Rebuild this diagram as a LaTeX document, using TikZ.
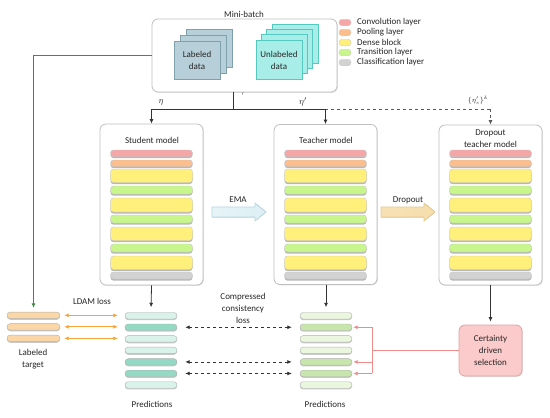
\documentclass[tikz,border=0pt]{standalone}
\usepackage{fontspec}
\setmainfont{Carlito}
\usetikzlibrary{arrows.meta,shadows}
\definecolor{convc}{HTML}{F5A7A7}
\definecolor{poolc}{HTML}{FBBE8C}
\definecolor{densec}{HTML}{FFF07C}
\definecolor{transc}{HTML}{C8F58C}
\definecolor{classc}{HTML}{D2D2D2}
\definecolor{panelb}{HTML}{BFBFBF}
\definecolor{labf}{HTML}{B7CFD8}
\definecolor{labd}{HTML}{7FA0AD}
\definecolor{unlf}{HTML}{A9EDE8}
\definecolor{unld}{HTML}{55C8C0}
\definecolor{tgtc}{HTML}{FBD7A8}
\definecolor{sprl}{HTML}{D9F2EA}
\definecolor{sprd}{HTML}{93D9C3}
\definecolor{tprl}{HTML}{EBF6DF}
\definecolor{tprd}{HTML}{C7E6AC}
\definecolor{ldamc}{HTML}{F7A43A}
\definecolor{redc}{HTML}{F28C8C}
\definecolor{certf}{HTML}{FBCACA}
\definecolor{certd}{HTML}{E3A3A3}
\definecolor{greenl}{HTML}{3E8E41}
\definecolor{emaf}{HTML}{DCEFF4}
\definecolor{emad}{HTML}{B5D8E2}
\definecolor{dropf}{HTML}{F6DEAC}
\definecolor{dropd}{HTML}{E6C88C}
\definecolor{txt}{HTML}{262626}
\begin{document}
\begin{tikzpicture}[x=1bp,y=-1bp,
  every node/.style={text=txt, font=\fontsize{9}{12}\selectfont},
  panel/.style={rectangle, rounded corners=6bp, draw=panelb, line width=0.8bp, fill=white, inner sep=0,
     drop shadow={shadow xshift=0.8bp, shadow yshift=-0.8bp, fill=black!25, opacity=0.5}},
  layer/.style={rectangle, rounded corners=3bp, minimum width=82bp, inner sep=0, draw=black!22, line width=0.4bp,
     drop shadow={shadow xshift=0bp, shadow yshift=-1.6bp, fill=black!40, opacity=0.7}},
  pred/.style={rectangle, rounded corners=3.2bp, minimum width=52bp, minimum height=6.5bp, inner sep=0, draw=black!30, line width=0.4bp,
     drop shadow={shadow xshift=0bp, shadow yshift=-1.2bp, fill=black!35, opacity=0.6}},
  legpill/.style={rectangle, rounded corners=3bp, minimum width=12bp, minimum height=6.5bp, inner sep=0, draw=black!20, line width=0.4bp},
  legtxt/.style={anchor=west, inner sep=0},
  conn/.style={draw=black!80, line width=0.8bp},
  tip/.style={-{Latex[length=4.5bp,width=4bp]}},
  dtip/.style={{Latex[length=4.5bp,width=4bp]}-{Latex[length=4.5bp,width=4bp]}},
  datasq/.style={line width=0.8bp},
  lbl/.style={align=center, inner sep=0}
]
\fill[white] (0,0) rectangle (550,417);
\useasboundingbox (0,0) rectangle (550,417);

% Mini-batch
\node[panel, minimum width=185bp, minimum height=73bp] (mb) at (244.5,55.5) {};
\node[lbl] (mbt) at (244,14) {Mini-batch};
\foreach \k in {2,1,0} {
  \filldraw[datasq, fill=labf, draw=labd] ({174+6*\k},{41-6*\k}) rectangle ({220+6*\k},{79-6*\k});
}
\node[lbl] (labd) at (197,60) {Labeled\\data};
\foreach \k in {3,2,1,0} {
  \filldraw[datasq, fill=unlf, draw=unld] ({256+5.33*\k},{40-5.33*\k}) rectangle ({302+5.33*\k},{79-5.33*\k});
}
\node[lbl] (unld) at (279,60) {Unlabeled\\data};

% Legend
\foreach \y/\c/\t [count=\i] in {22.5/convc/Convolution layer, 32.5/poolc/Pooling layer, 42.5/densec/Dense block, 52.5/transc/Transition layer, 62.5/classc/Classification layer} {
  \node[legpill, fill=\c] (lg\i) at (345,\y) {};
  \node[legtxt] (lgt\i) at (357,\y) {\t};
}

% Model panels
\node[panel, minimum width=103bp, minimum height=161bp] (stu) at (151.5,204.5) {};
\node[panel, minimum width=103bp, minimum height=160bp] (tea) at (325.5,204.5) {};
\node[panel, minimum width=103bp, minimum height=160bp] (drp) at (490.5,205) {};
\node[lbl] (stut) at (152,140) {Student model};
\node[lbl] (teat) at (326,140.5) {Teacher model};
\node[lbl] (drpt) at (490.5,139) {Dropout\\teacher model};

\foreach \bx/\bn in {151.5/stu, 325.5/tea, 490.5/drp} {
  \foreach \yt/\yb/\c [count=\i] in {150/156.5/convc,160/166.5/poolc,169/182.5/densec,186/194/transc,198/212/densec,215/223/transc,227/240.5/densec,244/252/transc,256/269.5/densec,272/279/classc} {
    \pgfmathsetmacro\hh{\yb-\yt}
    \pgfmathsetmacro\yc{(\yt+\yb)/2}
    \node[layer, fill=\c, minimum height=\hh bp] (\bn-l\i) at (\bx,\yc) {};
  }
}

% noise labels and split
\coordinate (split) at (233,109);
\coordinate (sl) at (151.5,109);
\coordinate (tl) at (325.5,109);
\coordinate (dl) at (490.5,109);
\draw[conn] (split |- mb.south) -- (split);
\draw[conn] (sl) -- (tl);
\draw[conn, tip] (sl) -- (stu.north);
\draw[conn, tip] (tl) -- (tea.north);
\draw[conn, dashed, draw=black!65] (tl) -- (dl);
\draw[conn, dashed, draw=black!65, tip] (dl) -- (drp.north);
\node[lbl, font=\fontsize{9.5}{9.5}\selectfont] (eta) at (161,102) {$\eta$};
\node[lbl, font=\fontsize{9.5}{9.5}\selectfont] (etap) at (303,102) {$\eta'$};
\node[lbl, font=\fontsize{7}{7}\selectfont] (etas) at (478,100) {$\{\eta'_s\}^k$};
\node[lbl, font=\fontsize{7}{7}\selectfont] (tick) at (243,96) {$'$};

% EMA and Dropout block arrows
\filldraw[left color=emaf!70, right color=emaf, draw=emad, line width=0.6bp]
  (212,207) -- (255,207) -- (255,203) -- (266,212) -- (255,221) -- (255,217) -- (212,217) -- cycle;
\node[lbl] (emat) at (238,200) {EMA};
\filldraw[left color=dropf!90, right color=dropf, draw=dropd, line width=0.6bp]
  (381,207) -- (424,207) -- (424,203) -- (435,212) -- (424,221) -- (424,217) -- (381,217) -- cycle;
\node[lbl] (dropt) at (408,200) {Dropout};

% Certainty driven selection
\node[panel, fill=certf, draw=certd, minimum width=63bp, minimum height=51bp, align=center] (cert) at (490.5,350.5) {Certainty\\driven\\selection};

% Labeled target
\foreach \i in {1,2,3} {
  \pgfmathsetmacro\yc{315.3+11.5*(\i-1)}
  \node[pred, fill=tgtc, minimum width=53bp] (lt\i) at (33.5,\yc) {};
}
\node[lbl] (ltt) at (33,359) {Labeled\\target};

% Predictions
\foreach \i/\ca/\cb in {1/sprl/tprl,2/sprd/tprd,3/sprl/tprl,4/sprl/tprl,5/sprd/tprd,6/sprd/tprd,7/sprl/tprl} {
  \pgfmathsetmacro\yc{315.7+11.55*(\i-1)}
  \node[pred, fill=\ca] (sp\i) at (151,\yc) {};
  \node[pred, fill=\cb] (tp\i) at (326,\yc) {};
}
\node[lbl] (spt) at (152,404) {Predictions};
\node[lbl] (tpt) at (325,404) {Predictions};

% model outputs
\draw[conn, tip, shorten >=5bp] (stu.south) -- (sp1.north);
\draw[conn, tip, shorten >=5bp] (tea.south -| tp1) -- (tp1.north);
\draw[conn, tip, shorten >=3bp] (drp.south) -- (cert.north);

% green labeled path
\draw[greenl, line width=0.8bp, tip, shorten >=4bp] (mb.west) -- (mb.west -| lt1) -- (lt1.north);

% LDAM loss
\node[lbl] (ldam) at (92,301) {LDAM loss};
\foreach \i in {1,2,3} {
  \draw[ldamc, line width=0.8bp, dtip, shorten <=4bp, shorten >=7bp] (lt\i.east) -- (lt\i.east -| sp1.west);
}

% consistency loss
\node[lbl] (cons) at (243,308) {Compressed\\consistency\\loss};
\foreach \i in {2,5,6} {
  \draw[conn, dashed, dtip, shorten <=8bp, shorten >=8bp] (sp\i.east) -- (tp\i.west);
}

% certainty selection arrows
\coordinate (rj) at (372,350.5);
\draw[redc, line width=0.8bp] (cert.west) -- (rj);
\draw[redc, line width=0.8bp] (rj |- tp2) -- (rj |- tp6);
\foreach \i in {2,5,6} {
  \draw[redc, line width=0.8bp, tip, shorten >=1bp] (rj |- tp\i) -- (tp\i.east);
}
\end{tikzpicture}
\end{document}
